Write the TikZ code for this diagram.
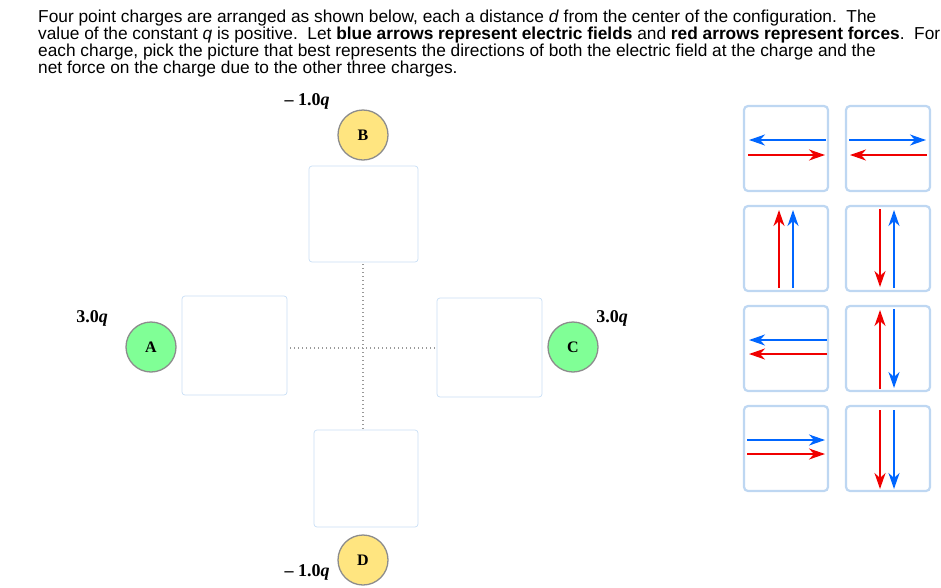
\documentclass[tikz,border=0pt]{standalone}
\usepackage{fontspec}
\setmainfont{Liberation Sans}
\newfontfamily\serifb{Liberation Serif}
\usetikzlibrary{arrows.meta}
\begin{document}
\begin{tikzpicture}[x=1pt,y=-1pt,
  charge/.style={circle,draw=black!45,line width=1.3pt,minimum size=50pt,inner sep=0pt,font=\serifb\bfseries\fontsize{16}{16}\selectfont},
  qlab/.style={font=\serifb\bfseries\fontsize{18}{18}\selectfont,inner sep=0pt},
  dropbox/.style={draw={rgb,255:red,200;green,222;blue,245},rounded corners=3pt,line width=0.7pt},
  tile/.style={draw={rgb,255:red,190;green,215;blue,242},rounded corners=4pt,line width=2.2pt,fill=white},
  fa/.style={line width=2pt,-{Stealth[length=16pt,width=11pt,inset=5pt]}},
  ef/.style={fa,color={rgb,255:red,0;green,102;blue,255}},
  fr/.style={fa,color={rgb,255:red,240;green,0;blue,0}},
  dots/.style={draw=black!40,line width=1.3pt,dash pattern=on 1.3pt off 2.7pt}]
\useasboundingbox (0,0) rectangle (941,587);
\node[anchor=north west,inner sep=0pt,align=left,font=\fontsize{17.3}{17}\selectfont] (txt) at (38,10)
{Four point charges are arranged as shown below, each a distance \textit{d} from the center of the configuration.\ \ The\\
value of the constant \textit{q} is positive.\ \ Let \textbf{blue arrows represent electric fields} and \textbf{red arrows represent forces}.\ \ For\\
each charge, pick the picture that best represents the directions of both the electric field at the charge and the\\
net force on the charge due to the other three charges.};
% dotted axes
\coordinate (h1) at (290,348); \coordinate (h2) at (437,348);
\coordinate (v1) at (363,264); \coordinate (v2) at (363,430);
\draw[dots] (h1) -- (h2);
\draw[dots] (v1) -- (v2);
% drop boxes
\draw[dropbox] (309,166) rectangle (418,262);
\draw[dropbox] (182,296) rectangle (287,395);
\draw[dropbox] (437,298) rectangle (542,397);
\draw[dropbox] (314,430) rectangle (418,527);
% charges
\node[charge,fill={rgb,255:red,255;green,229;blue,128}] (B) at (363,135) {B};
\node[charge,fill={rgb,255:red,128;green,255;blue,150}] (A) at (151,347) {A};
\node[charge,fill={rgb,255:red,128;green,255;blue,150}] (C) at (573,347) {C};
\node[charge,fill={rgb,255:red,255;green,229;blue,128}] (D) at (363,560) {D};
\node[qlab] (qB) at (307,101) {– 1.0\textit{q}};
\node[qlab] (qA) at (92,318) {3.0\textit{q}};
\node[qlab] (qC) at (612,318) {3.0\textit{q}};
\node[qlab] (qD) at (307,572) {– 1.0\textit{q}};
% tiles
\foreach \x in {744,846}{\foreach \y in {106,206,306,406}{\draw[tile] (\x,\y) rectangle ++(84,85);}}
% tile 1
\draw[ef] (826,140) -- (749,140);
\draw[fr] (748,155) -- (825,155);
% tile 2
\draw[ef] (849,140) -- (926,140);
\draw[fr] (927,155) -- (850,155);
% tile 3
\draw[fr] (779,288) -- (779,210);
\draw[ef] (793,288) -- (793,210);
% tile 4
\draw[fr] (880,209) -- (880,287);
\draw[ef] (894,288) -- (894,210);
% tile 5
\draw[ef] (827,340) -- (749,340);
\draw[fr] (827,354) -- (749,354);
% tile 6
\draw[fr] (880,389) -- (880,310);
\draw[ef] (894,309) -- (894,388);
% tile 7
\draw[ef] (747,440) -- (825,440);
\draw[fr] (747,454) -- (825,454);
% tile 8
\draw[fr] (880,410) -- (880,489);
\draw[ef] (894,410) -- (894,489);
\end{tikzpicture}
\end{document}
